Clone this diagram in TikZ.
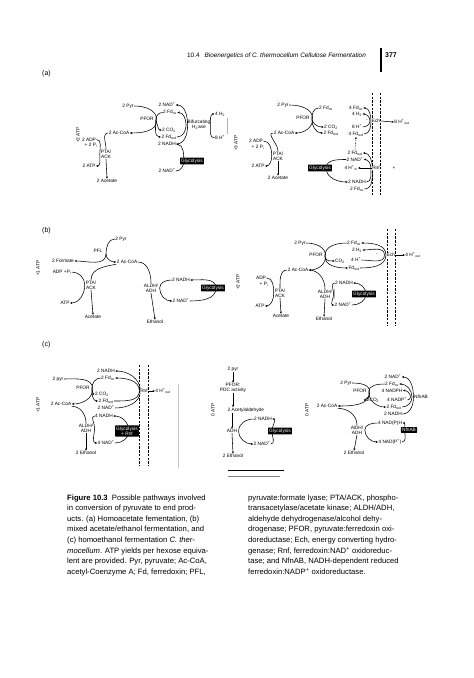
\documentclass[tikz,border=0pt]{standalone}
\usepackage{fontspec}
\setmainfont{Liberation Sans}
\usetikzlibrary{arrows.meta,calc}
\pgfdeclarelayer{bg}
\pgfsetlayers{bg,main}
\newcommand\lblf{\fontsize{4.8}{5.3}\selectfont}
\newcommand\capf{\fontsize{7.7}{8}\selectfont}
\newcommand\Fdo{Fd\textsubscript{ox}}
\newcommand\Fdr{Fd\textsubscript{red}}
\newcommand\NADp{NAD\textsuperscript{+}}
\newcommand\Hp{H\textsuperscript{+}}
\newcommand\Hh{H\textsubscript{2}}
\newcommand\COt{CO\textsubscript{2}}
\begin{document}
\begin{tikzpicture}[x=1bp,y=-1bp,
 lbl/.style={font=\lblf,inner sep=0.4bp,align=center},
 gbox/.style={fill=black,text=white,font=\lblf,inner sep=1.2bp,align=center,rounded corners=0.6bp},
 arr/.style={line width=0.55bp,-{Stealth[length=2.3bp,width=2.1bp]}},
 ln/.style={line width=0.55bp},
 mem/.style={line width=1bp,dash pattern=on 2.4bp off 1.3bp},
 captxt/.style={anchor=base west,inner sep=0,font=\capf},
 plab/.style={anchor=base west,inner sep=0,font=\fontsize{7}{8}\selectfont},
]
\useasboundingbox (0,0) rectangle (474,678);

% ---------- header ----------
\node[anchor=base west,inner sep=0,font=\fontsize{6.4}{7}\selectfont] (hdr) at (187,58) {10.4\hspace{5bp}\itshape Bioenergetics of C. thermocellum Cellulose Fermentation};
\draw[line width=1.2bp] (381,48) -- (381,72);
\node[anchor=base west,inner sep=0,font=\fontsize{7}{8}\selectfont\bfseries] (pg) at (385,58) {377};

\node[plab] (la) at (42,76) {(a)};
\node[plab] (lb) at (42,232) {(b)};
\node[plab] (lc) at (42,346) {(c)};

% ---------- (a) left ----------
\node[lbl] (pyrA) at (128,106) {2 Pyr};
\node[lbl] (nadA) at (167,105) {2 \NADp};
\node[lbl] (fdoxA) at (170,112.5) {2 \Fdo};
\node[lbl] (pforA) at (147,119) {PFOR};
\node[lbl] (hA) at (199,125) {Bifurcating\\\Hh ase};
\node[lbl] (h2A) at (220,114) {4 \Hh};
\node[lbl] (co2A) at (169,130) {2 \COt};
\node[lbl] (fdredA) at (169,137) {2 \Fdr};
\node[lbl] (hpA) at (220,138) {8 \Hp};
\node[lbl] (nadhA) at (167,144) {2 NADH};
\node[lbl] (acoaA) at (119,133) {2 Ac-CoA};
\node[lbl,rotate=90] (atpyA) at (78,135) {+2 ATP};
\node[lbl] (adpA) at (89,139.5) {2 ADP};
\node[lbl] (piA) at (91,145.5) {+ 2 P\textsubscript{i}};
\node[lbl] (ptaA) at (106,154) {PTA/\\ACK};
\node[gbox] (glyA) at (192,161) {Glycolysis};
\node[lbl] (atpA) at (89,166) {2 ATP};
\node[lbl] (nad2A) at (167,171) {2 \NADp};
\node[lbl] (acetA) at (107,181) {2 Acetate};
\draw[gray!60,line width=0.8bp] (227,118) -- (227,134);

% ---------- (a) right ----------
\draw[mem] (372,93) -- (372,196);
\draw[mem] (380,93) -- (380,196);
\node[lbl] (pyrB) at (283,105) {2 Pyr};
\node[lbl] (fdoxB) at (326,108) {2 \Fdo};
\node[lbl] (pforB) at (303,118) {PFOR};
\node[lbl] (co2B) at (331,127) {2 \COt};
\node[lbl] (fdredB) at (331,133) {2 \Fdr};
\node[lbl] (acoaB) at (284,133) {2 Ac-CoA};
\node[lbl,rotate=90] (atpyB) at (236,143) {+3 ATP};
\node[lbl] (adpB) at (256,141) {2 ADP};
\node[lbl] (piB) at (258,147) {+ 2 P\textsubscript{i}};
\node[lbl] (ptaB) at (278,156) {PTA/\\ACK};
\node[lbl] (atpB) at (258,166) {2 ATP};
\node[lbl] (acetB) at (278,178) {2 Acetate};
\node[lbl] (fdox4B) at (356,108) {4 \Fdo};
\node[lbl] (h2B) at (357,114) {4 \Hh};
\node[lbl] (minB) at (367,121) {-};
\node[lbl,fill=white,inner sep=0.2bp] (echB) at (376,121) {Ech};
\node[lbl] (hoB) at (402,122) {8 \Hp\textsubscript{out}};
\node[lbl] (hpB) at (357,127) {8 \Hp};
\node[lbl] (fdred4B) at (356,134) {4 \Fdr};
\node[lbl] (fdredLB) at (355,153) {2 \Fdr};
\node[lbl] (nadB) at (355,159.5) {2 \NADp};
\node[gbox] (glyB) at (320,168) {Glycolysis};
\node[lbl] (hinB) at (351,168) {4 \Hp\textsubscript{in}};
\node[lbl,fill=white,inner sep=0.2bp] (rnfB) at (376,168) {Rnf};
\node[lbl] (plusB) at (394,168) {+};
\node[lbl] (nadhB) at (357,182) {2 NADH};
\node[lbl] (fdoxLB) at (357,189) {2 \Fdo};

% ---------- (b) left ----------
\node[lbl] (pyrC) at (121,239) {2 Pyr};
\node[lbl] (pflC) at (98,251) {PFL};
\node[lbl] (formC) at (63,261) {2 Formate};
\node[lbl] (acoaC) at (127,262) {2 Ac-CoA};
\node[lbl,rotate=90] (atpyC) at (38,268) {+1 ATP};
\node[lbl] (adpC) at (62,272) {ADP +P\textsubscript{i}};
\node[lbl] (ptaC) at (91,285) {PTA/\\ACK};
\node[lbl] (aldhC) at (151,288) {ALDH/\\ADH};
\node[lbl] (nadhC) at (181,280) {2 NADH};
\node[gbox] (glyC) at (213,288) {Glycolysis};
\node[lbl] (atpC) at (65,303) {ATP};
\node[lbl] (nadC) at (181,301) {2 \NADp};
\node[lbl] (acetC) at (93,317) {Acetate};
\node[lbl] (ethC) at (155,322) {Ethanol};

% ---------- (b) right ----------
\draw[mem] (387,229) -- (387,326);
\draw[mem] (395,229) -- (395,326);
\node[lbl] (pyrD) at (300,243) {2 Pyr};
\node[lbl] (fdoxD) at (354,243) {2 \Fdo};
\node[lbl] (h2D) at (357,250) {2 \Hh};
\node[lbl] (pforD) at (316,255) {PFOR};
\node[lbl] (co2D) at (340,261) {\COt};
\node[lbl] (hpD) at (356,260) {4 \Hp};
\node[lbl] (minD) at (377,255) {-};
\node[lbl,fill=white,inner sep=0.2bp] (echD) at (391,255) {Ech};
\node[lbl] (hoD) at (413,255) {4 \Hp\textsubscript{out}};
\node[lbl] (fdredD) at (354,268) {\Fdr};
\node[lbl] (acoaD) at (298,270) {2 Ac-CoA};
\node[lbl,rotate=90] (atpyD) at (238,282) {+2 ATP};
\node[lbl] (adpD) at (261,278) {ADP};
\node[lbl] (piD) at (264,284) {+ P\textsubscript{i}};
\node[lbl] (ptaD) at (280,293) {PTA/\\ACK};
\node[lbl] (nadhD) at (344,283) {2 NADH};
\node[lbl] (aldhD) at (325,294) {ALDH/\\ADH};
\node[gbox] (glyD) at (364,294) {Glycolysis};
\node[lbl] (atpD) at (260,306) {ATP};
\node[lbl] (nadD) at (343,305) {2 \NADp};
\node[lbl] (acetD) at (281,316) {Acetate};
\node[lbl] (ethD) at (324,319) {Ethanol};
\draw[gray!60,line width=0.8bp] (334,289) -- (334,299);

% ---------- (c) left ----------
\draw[mem] (139.5,365) -- (139.5,466);
\draw[mem] (148.5,365) -- (148.5,466);
\node[lbl] (nadhE) at (106,371) {2 NADH};
\node[lbl] (pyrE) at (58,379) {2 pyr};
\node[lbl] (fdoxE) at (108,378) {2 \Fdo};
\node[lbl] (pforE) at (83,388) {PFOR};
\node[lbl] (co2E) at (102,394) {2 \COt};
\node[lbl,fill=white,inner sep=0.2bp] (rnfE) at (144,391) {Rnf};
\node[lbl] (hoE) at (163,391) {4 \Hp\textsubscript{out}};
\node[lbl,rotate=90] (atpyE) at (38,405) {+1 ATP};
\node[lbl] (acoaE) at (61,404) {2 Ac-CoA};
\node[lbl] (fdredE) at (106,401) {2 \Fdr};
\node[lbl] (nadE) at (106,408) {2 \NADp};
\node[lbl] (nadh4E) at (104,416) {4 NADH};
\node[lbl] (aldhE) at (86,428) {ALDH/\\ADH};
\node[gbox] (glyE) at (127,431) {Glycolysis\\+ Rnf};
\node[lbl] (nad4E) at (106,443) {4 \NADp};
\node[lbl] (ethE) at (86,453) {2 Ethanol};
\draw[gray!45,line width=0.5bp] (178,384) -- (178,468);

% ---------- (c) middle ----------
\node[lbl] (pyrF) at (233,369) {2 pyr};
\node[lbl] (pforF) at (233,388) {PFOR:\\PDC activity};
\node[lbl,rotate=90] (atpyF) at (213,410) {0 ATP};
\node[lbl,anchor=west] (acalF) at (227,410) {2 Acetylaldehyde};
\node[lbl] (adhF) at (232,431) {ADH};
\node[lbl] (nadhF) at (263,419) {2 NADH};
\node[gbox] (glyF) at (280,431) {Glycolysis};
\node[lbl] (nadF) at (262,444) {2 \NADp};
\node[lbl] (ethF) at (233,456) {2 Ethanol};
\draw[line width=0.8bp] (228,470) -- (284,470);
\draw[line width=0.5bp,gray] (228,476) -- (280,476);

% ---------- (c) right ----------
\node[lbl] (nadG) at (393,377) {2 \NADp};
\node[lbl] (pyrG) at (346,383) {2 Pyr};
\node[lbl] (fdoxG) at (392,384) {2 \Fdo};
\node[lbl] (nadphG) at (392,390.5) {4 NADPH};
\node[lbl] (pforG) at (360,391) {PFOR};
\node[lbl] (nfnG) at (421,397) {NfnAB};
\node[lbl] (co2G) at (373,400) {2CO\textsubscript{2}};
\node[lbl] (nadpG) at (397,400) {4 NADP\textsuperscript{+}};
\node[lbl,rotate=90] (atpyG) at (307,410) {0 ATP};
\node[lbl] (acoaG) at (327,406) {2 Ac-CoA};
\node[lbl] (fdredG) at (394,407) {2 \Fdr};
\node[lbl] (nadhG) at (393,414) {2 NADH};
\node[lbl] (nadph2G) at (390,423) {4 NAD(P)H};
\node[lbl] (aldhG) at (357,430) {AlDH/\\ADH};
\node[gbox] (nfnbG) at (409,430) {NfnAB};
\node[lbl] (nadp4G) at (390,442) {4 NAD(P\textsuperscript{+})};
\node[lbl] (ethG) at (354,453) {2 Ethanol};

% ---------- caption (ragged right) ----------
\node[captxt] (c1) at (67,500) {\textbf{Figure 10.3}\ \ Possible pathways involved};
\node[captxt] (c2) at (67,510.6) {in conversion of pyruvate to end prod-};
\node[captxt] (c3) at (67,521.2) {ucts. (a) Homoacetate fementation, (b)};
\node[captxt] (c4) at (67,531.8) {mixed acetate/ethanol fermentation, and};
\node[captxt] (c5) at (67,542.4) {(c) homoethanol fermentation \textit{C. ther-}};
\node[captxt] (c6) at (67,553) {\textit{mocellum}. ATP yields per hexose equiva-};
\node[captxt] (c7) at (67,563.6) {lent are provided. Pyr, pyruvate; Ac-CoA,};
\node[captxt] (c8) at (67,574.2) {acetyl-Coenzyme A; Fd, ferredoxin; PFL,};
\node[captxt] (d1) at (248,500) {pyruvate:formate lyase; PTA/ACK, phospho-};
\node[captxt] (d2) at (248,510.6) {transacetylase/acetate kinase; ALDH/ADH,};
\node[captxt] (d3) at (248,521.2) {aldehyde dehydrogenase/alcohol dehy-};
\node[captxt] (d4) at (248,531.8) {drogenase; PFOR, pyruvate:ferredoxin oxi-};
\node[captxt] (d5) at (248,542.4) {doreductase; Ech, energy converting hydro-};
\node[captxt] (d6) at (248,553) {genase; Rnf, ferredoxin:NAD\textsuperscript{+} oxidoreduc-};
\node[captxt] (d7) at (248,563.6) {tase; and NfnAB, NADH-dependent reduced};
\node[captxt] (d8) at (248,574.2) {ferredoxin:NADP\textsuperscript{+} oxidoreductase.};

% ================= connectors =================
\begin{pgfonlayer}{bg}
% (a) left
\coordinate (vA) at ($(pforA.east)+(2.5,1)$);
\draw[arr] (pyrA.east) to[out=0,in=90] (vA) to[out=-90,in=0] (acoaA.east);
\draw[arr] (fdoxA.west) to[out=180,in=90] ($(vA)+(-1,0)$) to[out=-90,in=180] (fdredA.west);
\draw[arr] ($(vA)+(-0.5,2)$) to[out=-60,in=180] (co2A.west);
\coordinate (vH) at ($(hA.west)+(0.5,0)$);
\draw[arr] (fdredA.east) to[out=0,in=-90] ($(vH)+(-1.5,0)$) to[out=90,in=0] (fdoxA.east);
\draw[arr] (nadhA.east) to[out=0,in=-90] (vH) to[out=90,in=0] (nadA.east);
\draw[arr] (hpA.west) to[out=180,in=-90] ($(hA.east)+(-0.5,0)$) to[out=90,in=180] (h2A.west);
\draw[arr] (nad2A.east) to[out=0,in=-90] ($(glyA.west)+(4,0)$) to[out=90,in=-10] (nadhA.east);
\draw[ln] (acoaA.west) to[out=180,in=90] (ptaA.north);
\draw[arr] (adpA.east) to[out=0,in=90] ($(ptaA.west)+(-0.5,0)$) to[out=-90,in=0] (atpA.east);
\draw[arr] (ptaA.south) -- (acetA.north);
% (a) right
\coordinate (vB) at ($(pforB.east)+(2.5,1)$);
\draw[arr] (pyrB.east) to[out=0,in=90] (vB) to[out=-90,in=0] (acoaB.east);
\draw[arr] (fdoxB.west) to[out=180,in=90] ($(vB)+(-1,0)$) to[out=-90,in=180] (fdredB.west);
\draw[arr] ($(vB)+(-0.5,2)$) to[out=-60,in=180] (co2B.west);
\draw[arr] (fdred4B.east) to[out=0,in=-90] ($(echB.west)+(-0.5,0)$) to[out=90,in=0] (fdox4B.east);
\draw[arr] (hpB.east) to[out=0,in=-90] ($(echB.west)+(-1.5,0)$) to[out=90,in=0] (h2B.east);
\draw[arr] (echB.east) -- (hoB.west);
\draw[arr,densely dotted] (fdredLB.north) -- (fdred4B.south);
\draw[arr] (fdoxLB.east) to[out=0,in=-90] ($(rnfB.west)+(0.5,0)$) to[out=90,in=0] (fdredLB.east);
\draw[arr] (nadhB.east) to[out=0,in=-90] ($(rnfB.west)+(-1,0)$) to[out=90,in=0] (nadB.east);
\draw[arr] (rnfB.west) -- (hinB.east);
\draw[arr] (nadB.west) to[out=180,in=90] ($(glyB.east)+(-6,0)$) to[out=-90,in=180] (nadhB.west);
\draw[ln] (acoaB.west) to[out=180,in=90] (ptaB.north);
\draw[arr] (adpB.east) to[out=0,in=90] ($(ptaB.west)+(-0.5,0)$) to[out=-90,in=0] (atpB.east);
\draw[arr] (ptaB.south) -- (acetB.north);
% (b) left
\coordinate (vC) at ($(pflC.east)+(3,3)$);
\draw[ln] (pyrC.west) to[out=180,in=90] (vC);
\draw[arr] (vC) to[out=-90,in=180] (acoaC.west);
\draw[arr] (vC) to[out=-90,in=0] (formC.east);
\draw[ln] (acoaC.south west) to[out=190,in=90] (ptaC.north);
\draw[ln] (acoaC.east) to[out=0,in=90] (aldhC.north);
\draw[arr] (adpC.east) to[out=0,in=90] ($(ptaC.west)+(-0.5,0)$) to[out=-90,in=0] (atpC.east);
\draw[arr] (ptaC.south) -- (acetC.north);
\draw[arr] (aldhC.south) -- (ethC.north);
\draw[arr] (nadhC.west) to[out=180,in=90] ($(aldhC.east)+(1,0)$) to[out=-90,in=180] (nadC.west);
\draw[arr] (nadC.east) to[out=0,in=-90] ($(glyC.center)+(3,0)$) to[out=90,in=0] (nadhC.east);
% (b) right
\coordinate (vD) at ($(pforD.east)+(2.5,1)$);
\draw[arr] (pyrD.east) to[out=0,in=90] (vD) to[out=-90,in=0] (acoaD.east);
\draw[arr] (fdoxD.west) to[out=180,in=90] ($(vD)+(-1,0)$) to[out=-90,in=180] (fdredD.west);
\draw[arr] ($(vD)+(-0.5,2)$) to[out=-60,in=180] (co2D.west);
\draw[arr] (fdredD.east) to[out=0,in=-90] ($(echD.west)+(-0.5,0)$) to[out=90,in=0] (fdoxD.east);
\draw[arr] (hpD.east) to[out=0,in=-90] ($(echD.west)+(-2,0)$) to[out=90,in=0] (h2D.east);
\draw[arr] (echD.east) -- (hoD.west);
\draw[ln] (acoaD.west) to[out=180,in=90] (ptaD.north);
\draw[ln] (acoaD.east) to[out=0,in=90] (aldhD.north);
\draw[arr] (adpD.east) to[out=0,in=90] ($(ptaD.west)+(-0.5,0)$) to[out=-90,in=0] (atpD.east);
\draw[arr] (ptaD.south) -- (acetD.north);
\draw[arr] (aldhD.south) -- (ethD.north);
\draw[arr] (nadhD.west) to[out=180,in=90] ($(aldhD.east)+(1,0)$) to[out=-90,in=180] (nadD.west);
\draw[arr] (nadD.east) to[out=0,in=-90] ($(glyD.center)+(2,0)$) to[out=90,in=0] (nadhD.east);
% (c) left
\coordinate (vE) at ($(pforE.east)+(2.5,1)$);
\draw[arr] (pyrE.east) to[out=0,in=90] (vE) to[out=-90,in=0] (acoaE.east);
\draw[arr] (fdoxE.west) to[out=180,in=90] ($(vE)+(-1,0)$) to[out=-90,in=180] (fdredE.west);
\draw[arr] ($(vE)+(-0.5,2)$) to[out=-60,in=180] (co2E.west);
\draw[arr] (fdredE.east) to[out=0,in=-90] ($(rnfE.west)+(-0.5,0)$) to[out=90,in=0] (fdoxE.east);
\draw[arr] (nadE.east) to[out=0,in=-90] ($(rnfE.west)+(0.5,0)$) to[out=90,in=0] (nadhE.east);
\draw[arr] (rnfE.east) -- (hoE.west);
\draw[ln] (acoaE.south east) to[out=0,in=90] (aldhE.north);
\draw[arr] (aldhE.south) -- (ethE.north);
\draw[arr] (nadh4E.west) to[out=180,in=90] ($(aldhE.east)+(1,0)$) to[out=-90,in=180] (nad4E.west);
\draw[arr] (nad4E.east) to[out=0,in=-90] ($(glyE.center)+(2,0)$) to[out=90,in=0] (nadh4E.east);
% (c) middle
\draw[arr] (pyrF) -- (pforF);
\draw[arr] (pforF.south) -- (pforF.south |- acalF.north);
\draw[arr] (adhF.north |- acalF.south) -- (adhF.north);
\draw[arr] (adhF.south) -- (ethF.north);
\draw[arr] (nadhF.west) to[out=180,in=90] ($(adhF.east)+(1,0)$) to[out=-90,in=180] (nadF.west);
\draw[arr] (nadF.east) to[out=0,in=-90] ($(glyF.west)+(4,0)$) to[out=90,in=0] (nadhF.east);
% (c) right
\coordinate (vG) at ($(pforG.east)+(2.5,1)$);
\draw[arr] (pyrG.east) to[out=0,in=90] (vG) to[out=-90,in=0] (acoaG.east);
\draw[arr] (fdoxG.west) to[out=180,in=90] ($(vG)+(-1,0)$) to[out=-90,in=180] (fdredG.west);
\draw[arr] ($(vG)+(-0.5,2)$) to[out=-60,in=180] (co2G.west);
\draw[arr] (nadpG.east) to[out=0,in=-90] ($(nfnG.west)+(-3,0)$) to[out=90,in=0] (nadphG.east);
\draw[arr] (fdredG.east) to[out=0,in=-90] ($(nfnG.west)+(-1.5,0)$) to[out=90,in=0] (fdoxG.east);
\draw[arr] (nadhG.east) to[out=0,in=-90] ($(nfnG.west)+(0,0)$) to[out=90,in=0] (nadG.east);
\draw[ln] (acoaG.south east) to[out=0,in=90] (aldhG.north);
\draw[arr] (aldhG.south) -- (ethG.north);
\draw[arr] (nadph2G.west) to[out=180,in=90] ($(aldhG.east)+(1,0)$) to[out=-90,in=180] (nadp4G.west);
\draw[arr] (nadp4G.east) to[out=0,in=-90] ($(nfnbG.west)+(4,0)$) to[out=90,in=0] (nadph2G.east);
\end{pgfonlayer}
\end{tikzpicture}
\end{document}
